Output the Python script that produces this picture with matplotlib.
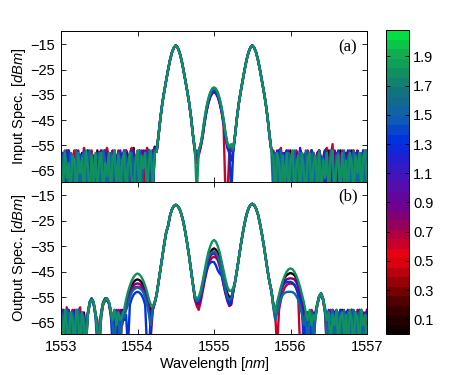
import numpy as np
import matplotlib
matplotlib.use("Agg")
import matplotlib.pyplot as plt
from matplotlib.colors import LinearSegmentedColormap, Normalize
from matplotlib.cm import ScalarMappable

plt.rcParams["font.family"] = "Liberation Sans"
plt.rcParams["font.size"] = 10.5
plt.rcParams["mathtext.fontset"] = "custom"
plt.rcParams["mathtext.rm"] = "Liberation Sans"
plt.rcParams["mathtext.it"] = "Liberation Sans:italic"

# sampling grid 1553..1557 nm, 0.025 nm step (161 samples)
wavelength = np.linspace(1553, 1557, 161)

# colour parameter of each trace, drawn in this order
params = [0.1, 0.6, 0.9, 1.3, 1.55, 1.8]
cbar_ticks = [0.1, 0.3, 0.5, 0.7, 0.9, 1.1, 1.3, 1.5, 1.7, 1.9]
x_ticks = [1553, 1554, 1555, 1556, 1557]
y_ticks = [-65, -55, -45, -35, -25, -15]

# ---------------- input spectra (a) ----------------
# 1553.000 .. 1554.250 nm, one list per trace
in_left = [
    [-75, -58, -60, -75, -57, -62, -75, -59, -57, -75, -60, -58, -75, -61, -57, -75, -59, -60, -75, -57,
     -62, -75, -58, -57, -75, -60, -59, -75, -57, -61, -75, -58, -60, -75, -57, -59, -75, -58, -56, -75,
     -60, -57, -75, -59, -58, -75, -57, -60, -75, -55.5, -57.5],
    [-58, -62, -75, -57, -59, -75, -60, -57, -75, -58, -61, -75, -56, -60, -75, -58, -57, -75, -62, -58,
     -75, -57, -60, -75, -56, -59, -75, -58, -62, -75, -57, -59, -75, -60, -57, -75, -58, -56, -75, -61,
     -58, -75, -57, -60, -75, -56, -59, -75, -57, -56, -57.5],
    [-59, -75, -61, -57, -75, -58, -64, -75, -60, -57, -75, -62, -58, -75, -57, -60, -75, -59, -63, -75,
     -58, -57, -75, -61, -58, -75, -60, -57, -75, -62, -58, -75, -59, -57, -70, -60, -75, -58, -57, -75,
     -61, -58, -75, -57, -60, -75, -58, -59, -75, -57, -57.5],
    [-63, -58, -75, -60, -57, -75, -62, -66, -58, -75, -59, -64, -57, -75, -60, -58, -75, -61, -67, -58,
     -75, -60, -63, -57, -75, -59, -62, -75, -58, -60, -75, -57, -66, -60, -58, -75, -61, -57, -75, -59,
     -63, -58, -75, -60, -57, -68, -59, -75, -58, -56, -57.5],
    [-75, -60, -57, -64, -75, -58, -60, -75, -57, -62, -75, -59, -58, -75, -61, -57, -66, -75, -59, -60,
     -58, -75, -57, -61, -75, -59, -58, -70, -60, -75, -58, -62, -75, -57, -60, -75, -59, -58, -65, -75,
     -60, -57, -75, -61, -58, -75, -57, -63, -75, -57, -57.5],
    [-60, -75, -58, -68, -62, -75, -59, -61, -75, -58, -66, -60, -75, -57, -63, -75, -59, -70, -58, -75,
     -61, -58, -75, -62, -67, -58, -75, -60, -57, -72, -59, -75, -61, -58, -75, -63, -58, -69, -75, -60,
     -57, -75, -59, -64, -58, -75, -61, -57, -70, -58, -57.5],
]
# pump lines, identical for all traces (1554.275..1554.725 and 1555.275..1555.725 nm)
in_pump = [-51, -44, -38.2, -33.5, -29.3, -25, -21.2, -18.2, -16.3, -15.4,
           -16.3, -18.2, -21.2, -25, -29.3, -33.5, -38.2, -44, -51]
# signal around 1555 nm (1554.750..1555.250 nm)
in_mid = [
    [-56.5, -58, -57, -55, -51, -45.5, -41, -37.5, -35, -33.5, -33, -33.5, -35, -37.5, -41, -45.5, -51, -55, -56.5, -57, -57],
    [-58, -62, -59, -56, -52, -46.5, -42, -38.5, -36, -34.5, -34, -34.5, -36, -38.5, -42, -47, -75, -75, -58, -57, -57.5],
    [-57, -60, -58, -55.5, -51.5, -46, -41.5, -38, -35.5, -34, -33.5, -34, -35.5, -38, -41.5, -46, -51.5, -56, -58, -61, -57],
    [-57, -59, -57.5, -55, -51.5, -46, -41.5, -38, -35.5, -34, -33.5, -34, -35.5, -38, -41.5, -46, -51.5, -55.5, -57, -75, -58],
    [-56.5, -58, -57, -55, -50.5, -45, -40.5, -37, -34.5, -33, -32.5, -33, -34.5, -37, -40.5, -45, -50.5, -54.5, -56, -56, -57],
    [-56, -75, -57, -54.5, -50, -44.5, -40, -36.5, -34, -32.5, -32, -32.5, -34, -36.5, -40, -44.5, -50, -54, -55.5, -54.5, -56],
]
# 1555.750 .. 1557.000 nm
in_right = [
    [-57, -58, -75, -60, -57, -75, -59, -58, -75, -61, -57, -75, -58, -60, -75, -57, -59, -75, -58, -61, -75,
     -57, -60, -75, -58, -57, -75, -60, -59, -75, -57, -61, -75, -58, -60, -75, -57, -59, -75, -58, -61,
     -75, -57, -60, -75, -58, -59, -75, -57, -61, -75],
    [-57, -57, -60, -75, -58, -56, -75, -61, -57, -75, -59, -58, -75, -57, -61, -75, -58, -60, -75, -57, -59,
     -75, -58, -61, -75, -57, -60, -75, -58, -56, -75, -60, -54.5, -75, -58, -61, -75, -57, -59, -75, -58,
     -60, -75, -57, -62, -75, -58, -59, -75, -57, -60],
    [-57, -59, -75, -57, -61, -75, -58, -60, -75, -57, -63, -75, -59, -58, -75, -56, -61, -75, -58, -60, -75,
     -57, -62, -75, -58, -59, -75, -60, -57, -75, -61, -58, -75, -57, -60, -75, -59, -58, -75, -62, -57,
     -75, -60, -58, -75, -57, -61, -75, -59, -58, -75],
    [-57, -58, -62, -75, -57, -60, -75, -59, -57, -68, -75, -60, -58, -75, -61, -57, -64, -75, -58, -61, -75,
     -57, -59, -66, -75, -58, -60, -75, -57, -62, -75, -59, -58, -75, -60, -57, -75, -63, -58, -60, -75,
     -57, -61, -75, -58, -59, -75, -62, -57, -75, -60],
    [-57, -75, -58, -61, -75, -57, -63, -75, -59, -58, -75, -61, -57, -75, -60, -58, -67, -75, -57, -62, -75,
     -59, -58, -75, -61, -57, -75, -60, -64, -58, -75, -57, -62, -75, -59, -58, -75, -61, -57, -75, -60,
     -58, -75, -57, -63, -75, -59, -58, -75, -61, -57],
    [-57, -60, -75, -58, -62, -75, -59, -70, -58, -75, -61, -57, -75, -63, -59, -75, -58, -66, -75, -60, -58,
     -75, -62, -59, -72, -58, -75, -61, -68, -58, -75, -60, -57, -75, -63, -59, -75, -58, -70, -61, -75,
     -58, -62, -75, -59, -66, -58, -75, -60, -57, -72],
]

# ---------------- output spectra (b) ----------------
# 1553.000 .. 1554.250 nm (cascade lines at 1553.4/1553.6, idler at 1554)
out_left = [
    [-62, -60, -75, -63, -60, -75, -61, -64, -75, -60, -62, -75, -61, -68, -62, -57, -55.5, -57, -61, -66,
     -70, -61, -57, -55.5, -55.5, -57, -60, -64, -60, -63, -75, -61, -60, -61, -58, -55, -52.5, -50.5, -49, -48.3,
     -48, -48.3, -49, -50.5, -52.5, -55, -58, -61, -59, -57, -54],
    [-60, -63, -75, -59, -64, -75, -60, -62, -75, -61, -59, -75, -64, -75, -62, -57.5, -56, -57, -62, -64,
     -75, -62, -58, -56.5, -56, -57.5, -62, -66, -61, -64, -60, -75, -62, -62, -60, -57, -54.5, -52.5, -51.5, -51,
     -50.9, -51, -51.5, -52.5, -54.5, -57, -60, -64, -60, -57, -54],
    [-64, -60, -75, -62, -61, -75, -63, -60, -75, -65, -61, -75, -62, -72, -62, -57.5, -56.5, -57.5, -62, -67,
     -72, -61, -57.5, -56.5, -56, -57, -61, -65, -61, -75, -62, -60, -66, -62, -59, -56, -53.5, -51.5, -50.3, -49.8,
     -49.6, -49.8, -50.3, -51.5, -53.5, -56, -59, -70, -60, -57.5, -54],
    [-75, -61, -63, -75, -60, -65, -75, -62, -60, -75, -64, -61, -75, -75, -61, -57, -55.5, -57, -62, -75,
     -75, -63, -58, -56, -55.5, -57, -61, -75, -62, -60, -75, -63, -61, -64, -62, -75, -58, -55.5, -54, -53.2,
     -52.9, -53.2, -54, -55.5, -58, -75, -75, -62, -59, -57.5, -54],
    [-61, -64, -75, -60, -62, -75, -61, -66, -75, -60, -62, -75, -63, -70, -61.5, -57, -56, -57.5, -62, -70,
     -66, -62, -57.5, -56, -56, -57, -61, -66, -75, -61, -63, -75, -62, -63, -60, -58, -55, -53, -52, -51.5,
     -51.2, -51.5, -52, -53, -55, -58, -62, -66, -59, -57, -54],
    [-62, -75, -60, -66, -75, -61, -64, -75, -60, -63, -75, -61, -66, -75, -62, -57.5, -56, -57, -61, -68,
     -75, -62, -57.5, -56, -55.5, -56.5, -60, -64, -60, -66, -61, -64, -62, -60, -56, -53, -50.5, -48.5, -47, -46.1,
     -45.7, -46.1, -47, -48.5, -50.5, -53, -56, -58, -58.5, -57, -54],
]
# broadened pumps, identical for all traces
out_pump1 = [-49, -44, -39, -34, -29.5, -27, -23, -20.5, -19.2, -18.7,
             -19.2, -20.3, -22.5, -25.5, -29.5, -34, -39, -44.5, -50]
out_pump2 = [-49, -44.5, -39.5, -34.5, -30, -26, -22.5, -20.2, -18.8, -18.3,
             -18.8, -20.2, -22.5, -26, -30, -34.5, -39.5, -44.5, -49]
# amplified signal (1554.750..1555.250 nm)
out_mid = [
    [-55, -57, -56.5, -54, -51, -47, -43.5, -40, -37.5, -36.3, -35.8, -36.3, -37.5, -40, -43.5, -47, -50.5, -53.5, -55, -55, -52.5],
    [-56, -58.5, -60, -57, -53, -49, -45.5, -42.5, -40.5, -39.5, -39.1, -39.5, -40.5, -43, -46.5, -50, -53.5, -56, -58, -57.5, -53],
    [-55.5, -57.5, -58, -55.5, -52, -48, -44, -41, -39, -38, -37.8, -38.5, -40, -42.5, -46, -50, -53.5, -56.5, -58.5, -58, -53],
    [-55, -56.5, -56.8, -54.5, -51, -47.5, -44.5, -42.5, -41.5, -41.1, -41.2, -42.5, -44.5, -45.7, -46.5, -49, -52.5, -55.5, -57.5, -56.5, -52.5],
    [-55, -56.5, -56, -53.5, -50, -46, -42.5, -39.5, -38, -37.3, -37, -37.5, -39, -41.5, -45, -48.5, -52, -55, -56, -55.5, -52.5],
    [-54.5, -55.5, -55, -52.5, -49, -45, -41, -37.5, -35, -33.2, -32.5, -33.2, -35, -37.5, -41, -44.5, -48, -51, -52.5, -52.5, -51.5],
]
# 1555.750 .. 1557.000 nm (idler at 1556, cascade line at 1556.4)
out_right = [
    [-52.5, -58, -61.5, -58.5, -55, -51.5, -49, -47.3, -46.3, -45.8, -45.5, -45.8, -46.3, -47.5, -49.5, -52.5, -56, -60, -64, -61,
     -75, -62, -63, -63, -58, -55, -54, -56, -60.5, -63, -62, -75, -60, -61, -64, -75, -62, -60, -75, -61,
     -63, -75, -60, -62, -75, -61, -60, -75, -63, -62, -75],
    [-52.5, -58, -62, -75, -60, -56, -53, -51.2, -50.2, -49.8, -49.6, -49.8, -50.2, -51.5, -54, -75, -75, -62, -64, -75,
     -62, -60, -75, -63, -58, -55, -54, -56, -61, -75, -62, -60, -75, -63, -61, -75, -60, -64, -75, -61,
     -62, -75, -60, -63, -75, -62, -60, -75, -64, -61, -75],
    [-52.5, -58.5, -63, -60, -56, -52.5, -50, -48.7, -48, -47.7, -47.6, -47.7, -48, -49, -51, -54, -58, -63, -75, -62,
     -65, -75, -61, -62, -57.5, -54.5, -53.5, -55.5, -60, -66, -75, -61, -63, -75, -60, -62, -75, -61, -75, -63,
     -60, -75, -62, -61, -75, -60, -64, -75, -61, -63, -60],
    [-52.5, -57.5, -60, -58, -55, -52.5, -50.5, -49.5, -49.1, -49, -49, -49.3, -50, -51.5, -53.5, -56.5, -60, -75, -63, -61,
     -75, -62, -64, -61, -57.5, -54.5, -53.5, -55.5, -59, -63, -60, -63, -75, -61, -62, -75, -60, -75, -63, -61,
     -62, -75, -60, -64, -61, -75, -62, -60, -75, -63, -61],
    [-52.5, -59, -64, -61, -58, -55.5, -54, -53.3, -53, -52.9, -52.9, -53, -53.5, -54.5, -56, -58.5, -62, -66, -61, -75,
     -63, -61, -75, -62, -58, -55, -54, -56, -60, -75, -61, -64, -60, -75, -62, -61, -75, -63, -60, -75,
     -61, -62, -75, -60, -63, -75, -61, -60, -75, -62, -64],
    [-52.5, -58, -61, -57, -54, -51, -48.5, -46.5, -45, -44, -43.7, -44, -45, -46.5, -48.5, -51, -54, -57, -61, -64,
     -60, -66, -62, -64, -58, -54.5, -53.5, -55.5, -60, -64, -61, -75, -62, -66, -60, -75, -63, -61, -70, -62,
     -75, -60, -64, -75, -61, -63, -75, -60, -66, -62, -75],
]

# colour scale of the traces
cmap_nodes = [(0.0, "#100000"), (0.08, "#400000"), (0.14, "#800000"), (0.2, "#c00010"),
              (0.25, "#f00010"), (0.3, "#c00030"), (0.36, "#900060"), (0.42, "#700090"),
              (0.5, "#5010b0"), (0.58, "#2020d0"), (0.64, "#0030e0"), (0.72, "#1060b0"),
              (0.8, "#107080"), (0.87, "#109060"), (0.94, "#10b050"), (1.0, "#00e040")]
cmap = LinearSegmentedColormap.from_list("spec", cmap_nodes, N=32)
norm = Normalize(vmin=0, vmax=2.08)

fig = plt.figure(figsize=(4.74, 3.75), dpi=100)
ax_in = fig.add_axes([0.1287, 0.5147, 0.6456, 0.4026])
ax_out = fig.add_axes([0.1287, 0.1093, 0.6456, 0.4054])
cax = fig.add_axes([0.8143, 0.1093, 0.0485, 0.8107])

for i, p in enumerate(params):
    spec_in = in_left[i] + in_pump + in_mid[i] + in_pump + in_right[i]
    spec_out = out_left[i] + out_pump1 + out_mid[i] + out_pump2 + out_right[i]
    ax_in.plot(wavelength, spec_in, color=cmap(norm(p)), lw=1.7)
    ax_out.plot(wavelength, spec_out, color=cmap(norm(p)), lw=1.7)

for ax in (ax_in, ax_out):
    ax.set_xlim(1553, 1557)
    ax.set_ylim(-69.5, -9.7)
    ax.set_xticks(x_ticks)
    ax.set_yticks(y_ticks)
    ax.tick_params(direction="in", top=True, right=True, length=3.5, width=0.6, pad=4)
    for s in ax.spines.values():
        s.set_linewidth(0.7)

ax_in.tick_params(labelbottom=False)
ax_in.set_ylabel(r"Input Spec. [$\mathit{dBm}$]", labelpad=2)
ax_out.set_ylabel(r"Output Spec. [$\mathit{dBm}$]", labelpad=2)
ax_out.set_xlabel(r"Wavelength [$\mathit{nm}$]", labelpad=1)

ax_in.text(0.938, 0.894, "(a)", transform=ax_in.transAxes, ha="center", va="center",
           family="Liberation Serif", fontsize=12)
ax_out.text(0.938, 0.908, "(b)", transform=ax_out.transAxes, ha="center", va="center",
            family="Liberation Serif", fontsize=12)

cb = fig.colorbar(ScalarMappable(norm=norm, cmap=cmap), cax=cax, ticks=cbar_ticks)
cb.ax.tick_params(direction="in", left=True, right=True, length=3, width=0.6, pad=3)
cb.outline.set_linewidth(0.7)

fig.savefig("out.png", dpi=100)
